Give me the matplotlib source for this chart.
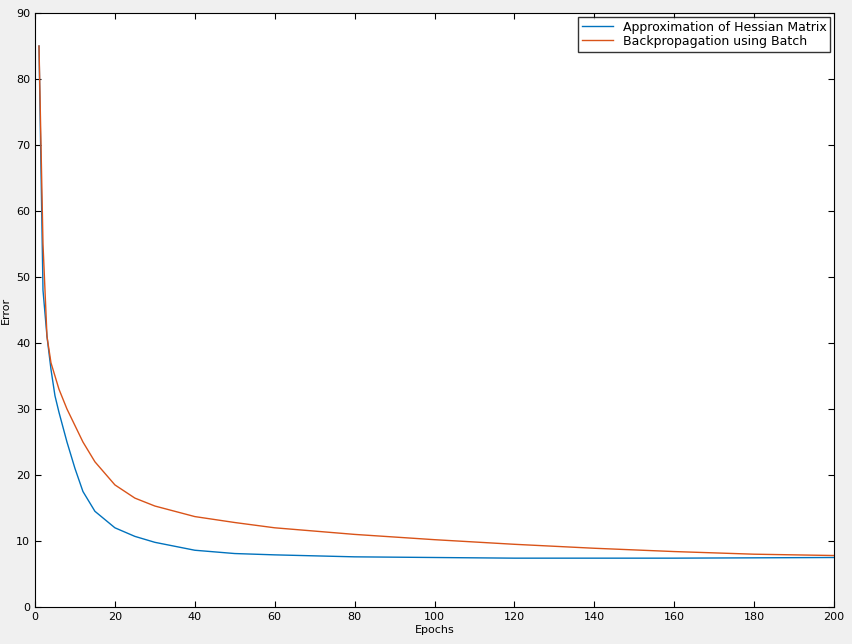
import matplotlib.pyplot as plt

epochs = [1, 2, 3, 4, 5, 6, 8, 10, 12, 15, 20, 25, 30, 40, 50, 60, 80, 100, 120, 140, 160, 180, 200]
hessian = [85, 48, 41, 36, 32, 29.5, 25, 21, 17.5, 14.5, 12, 10.7, 9.8, 8.6, 8.1, 7.9, 7.6, 7.5, 7.4, 7.4, 7.4, 7.45, 7.5]
batch = [85, 55, 41, 37, 35, 33, 30, 27.5, 25, 22, 18.5, 16.5, 15.3, 13.7, 12.8, 12.0, 11.0, 10.2, 9.5, 8.9, 8.4, 8.0, 7.8]

fig = plt.figure(figsize=(8.52, 6.44), dpi=100, facecolor='#f0f0f0')
ax = fig.add_axes([35/852, 1-607/644, 799/852, 594/644])
ax.plot(epochs, hessian, color='#0072bd', lw=1, label='Approximation of Hessian Matrix')
ax.plot(epochs, batch, color='#d95319', lw=1, label='Backpropagation using Batch')
ax.set_xlim(0, 200)
ax.set_ylim(0, 90)
ax.set_xticks(range(0, 201, 20))
ax.set_yticks(range(0, 91, 10))
ax.tick_params(direction='in', labelsize=8, top=True, right=True, length=4)
ax.set_xlabel('Epochs', fontsize=8, labelpad=2)
ax.set_ylabel('Error', fontsize=8, labelpad=4)
ax.legend(loc='upper right', fontsize=9, fancybox=False, edgecolor='black',
          borderaxespad=0.3, handlelength=2.5, borderpad=0.3, labelspacing=0.1)
fig.savefig('out.png', dpi=100, facecolor=fig.get_facecolor())
